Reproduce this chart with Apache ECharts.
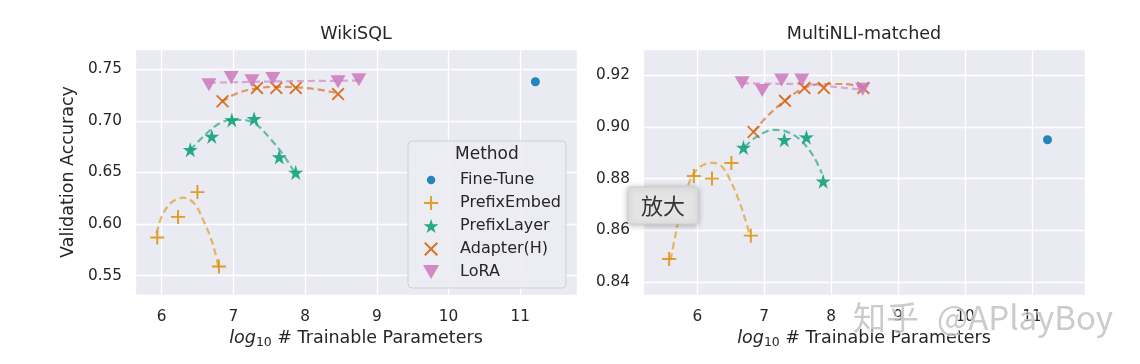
<!DOCTYPE html>
<html><head><meta charset="utf-8">
<script src="https://cdn.jsdelivr.net/npm/echarts@6/dist/echarts.min.js"></script>
<style>html,body{margin:0;padding:0;background:#fff}#c{width:1140px;height:364px}</style>
</head><body><div id="c"></div>
<script>
// ---------- data ----------
const methods = ['Fine-Tune', 'PrefixEmbed', 'PrefixLayer', 'Adapter(H)', 'LoRA'];
const panelTitles = ['WikiSQL', 'MultiNLI-matched'];
const xTickLabels = [6, 7, 8, 9, 10, 11];
const wikiYTicks = [0.55, 0.60, 0.65, 0.70, 0.75];
const mnliYTicks = [0.84, 0.86, 0.88, 0.90, 0.92];

// WikiSQL points
const wikiFineTuneX = [11.21];
const wikiFineTuneY = [0.738];
const wikiEmbedX = [5.94, 6.23, 6.50, 6.80];
const wikiEmbedY = [0.587, 0.607, 0.631, 0.559];
const wikiLayerX = [6.40, 6.70, 6.98, 7.29, 7.64, 7.87];
const wikiLayerY = [0.672, 0.685, 0.701, 0.702, 0.665, 0.650];
const wikiAdapterX = [6.85, 7.33, 7.60, 7.87, 8.46];
const wikiAdapterY = [0.719, 0.732, 0.732, 0.732, 0.726];
const wikiLoraX = [6.66, 6.97, 7.26, 7.55, 8.46, 8.75];
const wikiLoraY = [0.735, 0.742, 0.739, 0.741, 0.738, 0.740];
// WikiSQL fitted (dashed) curves
const wikiEmbedFitX = [5.93, 6.00, 6.10, 6.19, 6.30, 6.40, 6.49, 6.58, 6.68, 6.75, 6.79];
const wikiEmbedFitY = [0.591, 0.607, 0.6185, 0.6234, 0.6256, 0.6234, 0.6169, 0.604, 0.5878, 0.5717, 0.5587];
const wikiLayerFitX = [6.40, 6.58, 6.77, 6.96, 7.14, 7.33, 7.51, 7.70, 7.86];
const wikiLayerFitY = [0.6718, 0.6847, 0.6960, 0.7009, 0.7009, 0.6960, 0.6831, 0.6670, 0.6492];
const wikiAdapterFitX = [6.84, 7.05, 7.33, 7.61, 7.89, 8.17, 8.47];
const wikiAdapterFitY = [0.7186, 0.7267, 0.7316, 0.7331, 0.7326, 0.7306, 0.7267];
const wikiLoraFitX = [6.66, 7.20, 7.70, 8.20, 8.75];
const wikiLoraFitY = [0.7370, 0.7378, 0.7384, 0.7388, 0.7390];

// MultiNLI-matched points
const mnliFineTuneX = [11.23];
const mnliFineTuneY = [0.895];
const mnliEmbedX = [5.58, 5.95, 6.22, 6.51, 6.80];
const mnliEmbedY = [0.849, 0.881, 0.880, 0.886, 0.858];
const mnliLayerX = [6.69, 7.30, 7.63, 7.88];
const mnliLayerY = [0.892, 0.895, 0.896, 0.879];
const mnliAdapterX = [6.84, 7.31, 7.60, 7.89, 8.48];
const mnliAdapterY = [0.898, 0.910, 0.915, 0.915, 0.915];
const mnliLoraX = [6.67, 6.97, 7.26, 7.56, 8.47];
const mnliLoraY = [0.917, 0.914, 0.918, 0.918, 0.9145];
// MultiNLI fitted (dashed) curves
const mnliEmbedFitX = [5.60, 5.65, 5.72, 5.82, 5.95, 6.09, 6.24, 6.37, 6.49, 6.62, 6.72, 6.79];
const mnliEmbedFitY = [0.8486, 0.855, 0.864, 0.8743, 0.882, 0.8853, 0.8861, 0.8846, 0.8795, 0.8717, 0.864, 0.8576];
const mnliLayerFitX = [6.71, 6.89, 7.14, 7.34, 7.54, 7.74, 7.86];
const mnliLayerFitY = [0.8923, 0.8962, 0.8988, 0.8981, 0.8949, 0.8885, 0.882];
const mnliAdapterFitX = [6.84, 7.04, 7.29, 7.59, 7.89, 8.18, 8.48];
const mnliAdapterFitY = [0.8981, 0.9039, 0.9097, 0.9149, 0.9165, 0.9165, 0.9153];
const mnliLoraFitX = [6.67, 7.20, 7.60, 7.90, 8.20, 8.47];
const mnliLoraFitY = [0.9168, 0.9166, 0.9165, 0.9158, 0.9150, 0.9143];

// ---------- styling ----------
const FONT = 'DejaVu Sans';
const TXT = '#262626';
const colors = ['#0173b2', '#de8f05', '#029e73', '#d55e00', '#cc78bc'];
const PLUS = 'path://M4.3,0H5.7V4.3H10V5.7H5.7V10H4.3V5.7H0V4.3H4.3Z';
const CROSS = 'path://M0,1L1,0L5,4L9,0L10,1L6,5L10,9L9,10L5,6L1,10L0,9L4,5Z';
const STAR = 'path://M1,0L1.2234,0.6926L1.951,0.691L1.3614,1.1174L1.588,1.809L1,1.38L0.412,1.809L0.6386,1.1174L0.049,0.691L0.7766,0.6926Z';
const TRI_DOWN = 'path://M0,0L10,0L5,8.66Z';
const DOT = 'path://M0,0M10,10M2,5A3,3 0 1 1 8,5A3,3 0 1 1 2,5Z';
const symbols = ['circle', PLUS, STAR, CROSS, TRI_DOWN];
const symSizes = [9, 14, 15, 13, [15, 13]];

const zip = (xs, ys) => xs.map((x, i) => [x, ys[i]]);
const panels = [
  { pts: [[wikiFineTuneX, wikiFineTuneY], [wikiEmbedX, wikiEmbedY], [wikiLayerX, wikiLayerY], [wikiAdapterX, wikiAdapterY], [wikiLoraX, wikiLoraY]],
    fits: [null, [wikiEmbedFitX, wikiEmbedFitY], [wikiLayerFitX, wikiLayerFitY], [wikiAdapterFitX, wikiAdapterFitY], [wikiLoraFitX, wikiLoraFitY]] },
  { pts: [[mnliFineTuneX, mnliFineTuneY], [mnliEmbedX, mnliEmbedY], [mnliLayerX, mnliLayerY], [mnliAdapterX, mnliAdapterY], [mnliLoraX, mnliLoraY]],
    fits: [null, [mnliEmbedFitX, mnliEmbedFitY], [mnliLayerFitX, mnliLayerFitY], [mnliAdapterFitX, mnliAdapterFitY], [mnliLoraFitX, mnliLoraFitY]] }
];

const series = [];
panels.forEach((p, pi) => {
  methods.forEach((m, mi) => {
    const f = p.fits[mi];
    if (f) {
      series.push({
        type: 'line', name: m + ' fit', xAxisIndex: pi, yAxisIndex: pi,
        data: zip(f[0], f[1]), smooth: 0.35, showSymbol: false, silent: true, z: 2,
        lineStyle: { color: colors[mi], width: 2.2, type: [7, 4], opacity: 0.6 }
      });
    }
  });
  methods.forEach((m, mi) => {
    const d = p.pts[mi];
    series.push({
      type: 'scatter', name: m, xAxisIndex: pi, yAxisIndex: pi,
      data: zip(d[0], d[1]), symbol: symbols[mi], symbolSize: symSizes[mi], z: 3 + mi,
      itemStyle: { color: colors[mi], opacity: 0.85 }
    });
  });
});

const gridBox = [
  { left: 135, top: 49, width: 442, height: 246 },
  { left: 643, top: 49, width: 442, height: 246 }
];
const xRange = [[5.63, 11.79], [5.19, 11.79]];
const yRange = [[0.5313, 0.7697], [0.8351, 0.9300]];
const yTicks = [wikiYTicks, mnliYTicks];
const near = (v, arr) => arr.some(t => Math.abs(t - v) < 1e-6);

const option = {
  animation: false,
  backgroundColor: '#ffffff',
  title: panelTitles.map((t, i) => ({
    text: t, left: gridBox[i].left + gridBox[i].width / 2 - 5, top: 20, textAlign: 'center',
    textStyle: { fontFamily: FONT, fontSize: 17.5, fontWeight: 'normal', color: TXT }
  })),
  grid: gridBox.map(g => Object.assign({ show: true, backgroundColor: '#eaeaf2', borderWidth: 0 }, g)),
  xAxis: [0, 1].map(i => ({
    type: 'value', gridIndex: i, min: xRange[i][0], max: xRange[i][1], splitNumber: 5,
    axisLine: { show: false }, axisTick: { show: false },
    splitLine: { show: true, lineStyle: { color: '#ffffff', width: 1.3 } },
    axisLabel: { margin: 15, fontFamily: FONT, fontSize: 15.3, color: TXT,
      formatter: v => near(v, xTickLabels) ? String(Math.round(v)) : '' },
    name: '{i|log}{s|10} # Trainable Parameters', nameLocation: 'middle', nameGap: 33,
    nameTextStyle: { fontFamily: FONT, fontSize: 17.5, color: TXT,
      rich: { i: { fontFamily: FONT, fontStyle: 'italic', fontSize: 17.5, color: TXT },
              s: { fontFamily: FONT, fontSize: 12.5, color: TXT, verticalAlign: 'bottom', padding: [7, 0, 0, 0] } } }
  })),
  yAxis: [0, 1].map(i => ({
    type: 'value', gridIndex: i, min: yRange[i][0], max: yRange[i][1], splitNumber: 5,
    axisLine: { show: false }, axisTick: { show: false },
    splitLine: { show: true, lineStyle: { color: '#ffffff', width: 1.3 } },
    axisLabel: { margin: 13, fontFamily: FONT, fontSize: 15.3, color: TXT,
      formatter: v => near(v, yTicks[i]) ? v.toFixed(2) : '' },
    name: i === 0 ? 'Validation Accuracy' : '', nameLocation: 'middle', nameGap: 58,
    nameTextStyle: { fontFamily: FONT, fontSize: 17.5, color: TXT }
  })),
  legend: {
    data: methods.map((m, i) => i === 0 ? { name: m, icon: DOT } : m),
    orient: 'vertical', left: 408, top: 141,
    padding: [31, 5, 8, 15],
    itemWidth: 24, itemHeight: 14, itemGap: 7,
    backgroundColor: 'rgba(236,236,243,0.9)', borderColor: '#cfcfd6', borderWidth: 1, borderRadius: 4,
    selectedMode: false,
    textStyle: { fontFamily: FONT, fontSize: 16, color: TXT, lineHeight: 14, padding: [0, 0, 0, 12] }
  },
  graphic: [
    { type: 'text', z: 100, left: 455, top: 146,
      style: { text: 'Method', fontFamily: FONT, fontSize: 17, fill: TXT } },
    { type: 'rect', z: 100, shape: { x: 628, y: 187, width: 70, height: 37, r: 2 },
      style: { fill: '#e4e4e4', stroke: '#cfcfcf', lineWidth: 1, shadowBlur: 6, shadowColor: 'rgba(0,0,0,0.25)', shadowOffsetY: 1 } },
    { type: 'text', z: 101, x: 663, y: 205.5,
      style: { text: '放大', fontFamily: 'Noto Sans CJK SC', fontSize: 22, fill: '#333333', align: 'center', verticalAlign: 'middle' } },
    { type: 'text', z: 102, x: 853, y: 317,
      style: { text: '知乎', fontFamily: 'Noto Sans CJK SC', fontSize: 33, fill: 'rgba(160,160,160,0.55)',
               stroke: 'rgba(255,255,255,0.75)', lineWidth: 1.5, align: 'left', verticalAlign: 'middle' } },
    { type: 'text', z: 102, x: 937, y: 317,
      style: { text: '@APlayBoy', fontFamily: 'Noto Sans CJK SC', fontSize: 33, fill: 'rgba(160,160,160,0.55)',
               stroke: 'rgba(255,255,255,0.75)', lineWidth: 1.5, align: 'left', verticalAlign: 'middle' } }
  ],
  series: series
};

const chart = echarts.init(document.getElementById('c'), null, { renderer: 'canvas' });
chart.setOption(option);
</script>
</body></html>
